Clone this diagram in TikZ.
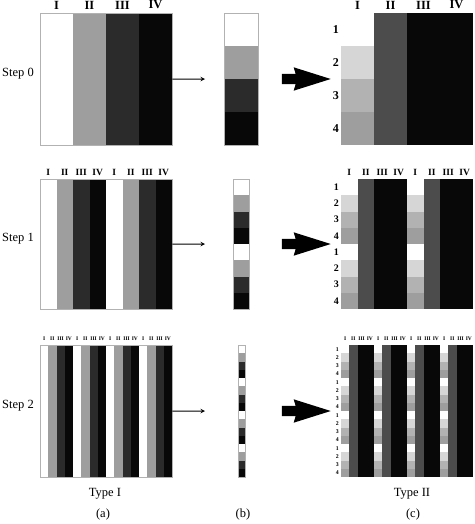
\documentclass[tikz,border=0pt]{standalone}
\usepackage{fontspec}
\setmainfont{Liberation Serif}
\usetikzlibrary{shapes.arrows}

% stripe greys, columns I to IV
\definecolor{col0}{gray}{1.00}
\definecolor{col1}{gray}{0.62}
\definecolor{col2}{gray}{0.17}
\definecolor{col3}{gray}{0.03}
% column I of the type II panels, rows 1 to 4
\definecolor{row0}{gray}{1.00}
\definecolor{row1}{gray}{0.84}
\definecolor{row2}{gray}{0.70}
\definecolor{row3}{gray}{0.62}
% other columns of the type II panels
\definecolor{cc1}{gray}{0.30}
\definecolor{cc2}{gray}{0.03}
\definecolor{cc3}{gray}{0.03}

\newcommand\colname[1]{\ifcase#1 I\or II\or III\or IV\fi}

\begin{document}
\begin{tikzpicture}[
    x = 1pt, y = -1pt, % pixel grid, y downwards
    > = stealth, % arrow head style
    panel/.style = {draw=gray!60, line width=0.4pt, inner sep=0pt, anchor=north west},
    bigarrow/.style = {single arrow, fill=black, inner xsep=0pt, inner ysep=5pt,
        minimum height=49pt, single arrow head extend=6.5pt,
        single arrow tip angle=35, single arrow head indent=2pt},
    steplabel/.style = {font=\fontsize{12.5}{12.5}\selectfont}
]
\useasboundingbox (0,0) rectangle (474,524);

% one row per step: top, height, columns, x and width of (b), label font sizes, label offset
\foreach \s/\py/\ph/\nc/\bx/\bw/\fa/\fr/\ly in {0/13/132/4/224/34/12.5/12/8, 1/179/130/8/233/16/9.5/10/7, 2/345/132/16/238/7/5.5/5.8/6} {
    \pgfmathsetmacro\cw{132/\nc}
    \pgfmathsetmacro\rh{\ph/\nc}
    \pgfmathtruncatemacro\last{\nc-1}

    % (a) stripes and their labels
    \foreach \i in {0,...,\last} {
        \pgfmathtruncatemacro\t{mod(\i,4)}
        \fill[fill=col\t] ({40+\i*\cw},\py) rectangle ++(\cw,\ph);
        \node[font=\bfseries\fontsize{\fa}{\fa}\selectfont, inner sep=0pt]
            at ({40+(\i+0.5)*\cw},{\py-\ly}) {\colname{\t}};
    }
    \node[panel, minimum width=132pt, minimum height=\ph pt] (a\s) at (40,\py) {};

    % (b) one column
    \foreach \i in {0,...,\last} {
        \pgfmathtruncatemacro\t{mod(\i,4)}
        \fill[fill=col\t] (\bx,{\py+\i*\rh}) rectangle ++(\bw,\rh);
    }
    \node[panel, minimum width=\bw pt, minimum height=\ph pt] (b\s) at (\bx,\py) {};

    % (c) cells, column and row labels
    \foreach \j in {0,...,\last} {
        \pgfmathtruncatemacro\t{mod(\j,4)}
        \foreach \r in {0,...,\last} {
            \pgfmathtruncatemacro\q{mod(\r,4)}
            \ifnum\t=0 \def\cc{row\q}\else\def\cc{cc\t}\fi
            \fill[fill=\cc] ({341+\j*\cw},{\py+\r*\rh}) rectangle ++(\cw,\rh);
        }
        \node[font=\bfseries\fontsize{\fa}{\fa}\selectfont, inner sep=0pt]
            at ({341+(\j+0.5)*\cw},{\py-\ly}) {\colname{\t}};
    }
    \foreach \r in {0,...,\last} {
        \pgfmathtruncatemacro\num{mod(\r,4)+1}
        \node[font=\bfseries\fontsize{\fr}{\fr}\selectfont, inner sep=0pt, anchor=east]
            at (339,{\py+(\r+0.5)*\rh}) {\num};
    }
    \node[panel, draw=none, minimum width=132pt, minimum height=\ph pt] (c\s) at (341,\py) {};

    % arrows
    \coordinate (e\s) at (205,{\py+\ph/2});
    \draw[->, line width=1pt] (a\s.east) -- (e\s);
    \node[bigarrow] (m\s) at (298,{\py+\ph/2}) {};

    \node[steplabel] (s\s) at (18,{\py+\ph/2-5}) {Step \s};
}

% captions
\node[steplabel] (ta) at (105,494) {Type I};
\node[steplabel] (tc) at (412,494) {Type II};
\node[steplabel] (la) at (103,514) {(a)};
\node[steplabel] (lb) at (243,514) {(b)};
\node[steplabel] (lc) at (413,514) {(c)};

\end{tikzpicture}
\end{document}
